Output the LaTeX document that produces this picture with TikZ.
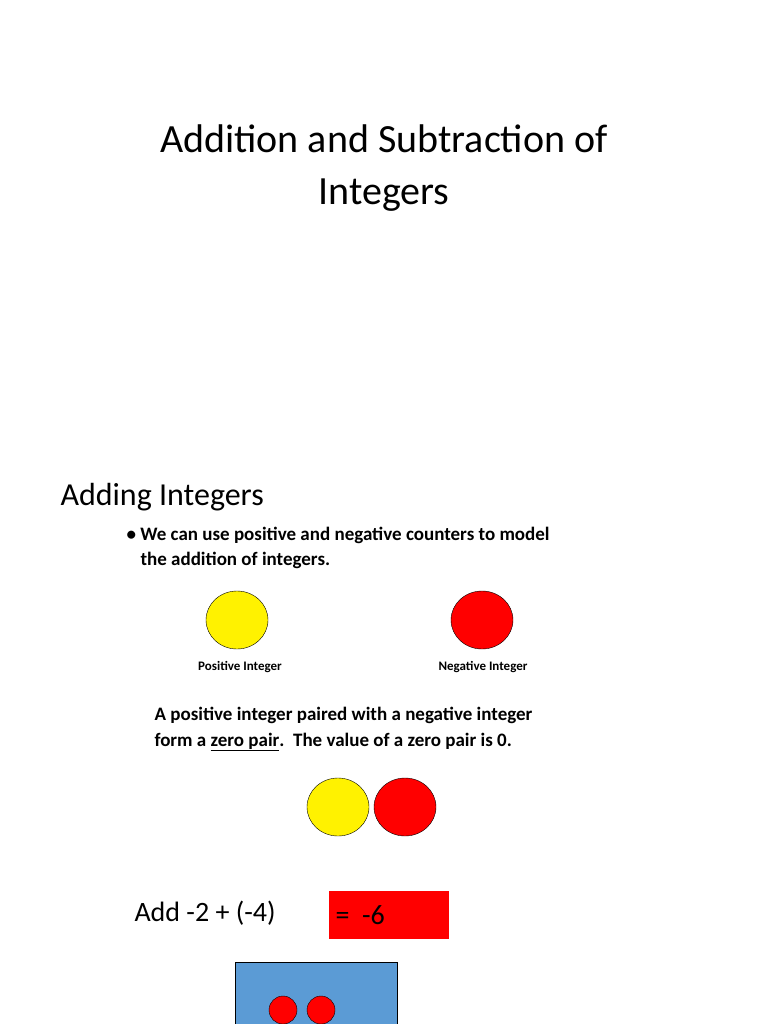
\documentclass[tikz,border=0pt]{standalone}
\usepackage{fontspec}
\setmainfont{Carlito}
\usetikzlibrary{shapes.geometric}
\begin{document}
\begin{tikzpicture}[x=1pt,y=-1pt,
  yel/.style={draw=black,fill=yellow,ellipse,minimum width=62pt,minimum height=58pt,inner sep=0pt},
  redc/.style={draw=black,fill=red,ellipse,minimum width=62pt,minimum height=58pt,inner sep=0pt},
  lbl/.style={font=\fontsize{13}{15}\selectfont\bfseries},
  body/.style={font=\fontsize{19}{25}\selectfont\bfseries,anchor=west}]
\useasboundingbox (0,0) rectangle (768,1024);
\node[font=\fontsize{40}{52}\selectfont,align=center] (title) at (384,168) {Addition and Subtraction of\\Integers};
\node[font=\fontsize{32}{38}\selectfont,anchor=west] (h) at (57,497) {Adding Integers};
\node[body] (b1) at (123,535) {\textbullet\ We can use positive and negative counters to model};
\node[body] (b2) at (137,560) {the addition of integers.};
\node[yel] (p) at (237,620) {};
\node[redc] (n) at (482,620) {};
\node[lbl] (pl) at (240,667) {Positive Integer};
\node[lbl] (nl) at (483,667) {Negative Integer};
\node[body] (z1) at (151,715) {A positive integer paired with a negative integer};
\node[body] (z2) at (151,742) {form a \underline{zero pair}.\ \ The value of a zero pair is 0.};
\node[yel] (zp) at (338,807) {};
\node[redc] (zn) at (405,807) {};
\node[font=\fontsize{28}{34}\selectfont,anchor=west] (add) at (131,913) {Add -2 + (-4)};
\fill[red] (329,891) rectangle (449,939);
\node[font=\fontsize{28}{34}\selectfont,anchor=west] (res) at (332,915) {=\ \ -6};
\draw[black,fill={rgb,255:red,91;green,155;blue,213}] (235,962) rectangle (397,1030);
\node[draw=black,fill=red,circle,minimum size=28pt,inner sep=0pt] (c1) at (283,1010) {};
\node[draw=black,fill=red,circle,minimum size=28pt,inner sep=0pt] (c2) at (321,1010) {};
\end{tikzpicture}
\end{document}
